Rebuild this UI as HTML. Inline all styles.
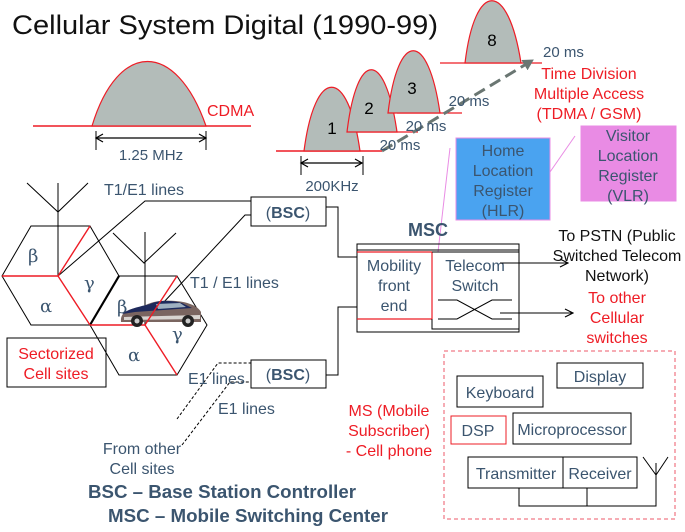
<!DOCTYPE html>
<html><head><meta charset="utf-8"><style>
html,body{margin:0;padding:0;background:#fff;}
svg, svg text{font-family:"Liberation Sans",Arial,Helvetica,sans-serif;}
svg text.gk{font-family:"DejaVu Serif",serif;}
.b{fill:#3b556f;}
.r{fill:#ee1c25;}
</style></head><body>
<svg width="685" height="527" viewBox="0 0 685 527" xmlns="http://www.w3.org/2000/svg" font-family="Liberation Sans, Arial, sans-serif">
<defs>
<marker id="ah" markerWidth="10" markerHeight="10" refX="9" refY="5" orient="auto" markerUnits="userSpaceOnUse"><path d="M1,1 L9,5 L1,9" fill="none" stroke="#000" stroke-width="1.2"/></marker>
<marker id="ag" markerWidth="12" markerHeight="12" refX="10" refY="6" orient="auto" markerUnits="userSpaceOnUse"><path d="M0,0 L11,6 L0,12 Z" fill="#6a7672"/></marker>
</defs>
<text x="12" y="34" font-size="27" textLength="426" lengthAdjust="spacingAndGlyphs" fill="#111">Cellular System Digital (1990-99)</text>

<!-- CDMA -->
<line x1="33" y1="126" x2="251" y2="126" stroke="#ee1c25" stroke-width="1.5"/>
<path d="M92,126 C118,40 176,40 206,126 Z" fill="#b3bcb9" stroke="#ee1c25" stroke-width="1.2"/>
<text x="207" y="116" font-size="16" class="r">CDMA</text>
<line x1="96" y1="138" x2="206" y2="138" stroke="#000" stroke-width="1.2"/>
<path d="M103,134 L96,138 L103,142 M199,134 L206,138 L199,142" fill="none" stroke="#000" stroke-width="1.2"/>
<line x1="96" y1="131" x2="96" y2="150" stroke="#000"/><line x1="206" y1="131" x2="206" y2="150" stroke="#000"/>
<text x="151" y="160" font-size="15" class="b" text-anchor="middle">1.25 MHz</text>

<!-- TDMA bells -->
<line x1="276" y1="151" x2="382" y2="151" stroke="#ee1c25" stroke-width="1.5"/>
<line x1="354" y1="132" x2="418" y2="132" stroke="#ee1c25" stroke-width="1.2"/>
<line x1="397" y1="113" x2="462" y2="113" stroke="#ee1c25" stroke-width="1.2"/>
<line x1="440" y1="63" x2="542" y2="63" stroke="#ee1c25" stroke-width="1.2"/>
<path d="M304,151 C315,66 348,66 360,151 Z" fill="#b3bcb9" stroke="#ee1c25" stroke-width="1.2"/>
<path d="M347,132 C357,49 385,49 397,132 Z" fill="#b3bcb9" stroke="#ee1c25" stroke-width="1.2"/>
<path d="M388,113 C398,30 428,30 440,113 Z" fill="#b3bcb9" stroke="#ee1c25" stroke-width="1.2"/>
<path d="M465,63 C475,-20 508,-20 521,63 Z" fill="#b3bcb9" stroke="#ee1c25" stroke-width="1.2"/>
<text x="332" y="134" font-size="17" text-anchor="middle">1</text>
<text x="369" y="114" font-size="17" text-anchor="middle">2</text>
<text x="412" y="94" font-size="17" text-anchor="middle">3</text>
<text x="492" y="46" font-size="17" text-anchor="middle">8</text>
<line x1="382" y1="151" x2="533" y2="60" stroke="#6a7672" stroke-width="3" stroke-dasharray="12,6" marker-end="url(#ag)"/>
<text x="400" y="150" font-size="15" class="b" text-anchor="middle">20 ms</text>
<text x="426" y="131" font-size="15" class="b" text-anchor="middle">20 ms</text>
<text x="469" y="106" font-size="15" class="b" text-anchor="middle">20 ms</text>
<text x="543" y="57" font-size="15" class="b">20 ms</text>
<line x1="301" y1="163" x2="362" y2="163" stroke="#000" stroke-width="1.2"/>
<path d="M308,159 L301,163 L308,167 M355,159 L362,163 L355,167" fill="none" stroke="#000" stroke-width="1.2"/>
<line x1="301" y1="156" x2="301" y2="175" stroke="#000"/><line x1="363" y1="156" x2="363" y2="175" stroke="#000"/>
<text x="332" y="191" font-size="15" class="b" text-anchor="middle">200KHz</text>
<g font-size="16" class="r" text-anchor="middle">
<text x="589" y="79">Time Division</text>
<text x="589" y="99">Multiple Access</text>
<text x="589" y="119">(TDMA / GSM)</text>
</g>

<!-- HLR VLR -->
<line x1="450" y1="148" x2="438" y2="252" stroke="#e98be4" stroke-width="1"/>
<line x1="575" y1="136" x2="550" y2="172" stroke="#e98be4" stroke-width="1"/>
<rect x="456" y="138" width="94" height="82" fill="#4aa3f0" stroke="#e98be4"/>
<g font-size="16" class="b" text-anchor="middle">
<text x="503" y="156">Home</text><text x="503" y="176">Location</text><text x="503" y="196">Register</text><text x="503" y="216">(HLR)</text>
</g>
<rect x="581" y="126" width="95" height="75" fill="#e98be4" stroke="#e98be4"/>
<g font-size="16" class="b" text-anchor="middle">
<text x="628" y="141">Visitor</text><text x="628" y="161">Location</text><text x="628" y="181">Register</text><text x="628" y="201">(VLR)</text>
</g>

<!-- antennas & hexes -->
<g stroke="#000" stroke-width="1" fill="none">
<path d="M27,183 L58,212 L88,183 M58,183 L58,276"/>
<path d="M113,233 L144,263 L176,233 M145,232 L145,325"/>
<polygon points="2,276 31,226 90,226 119,276 90,325 31,325"/>
<polygon points="90,325 119,276 177,276 207,325 177,375 119,375"/>
<line x1="119" y1="276" x2="90" y2="325" stroke-width="2.2"/>
<path d="M58,276 L145,201 L251,201"/>
<path d="M163,303 L245,215 L251,215"/>
<path d="M326,207 L338,207 L338,257 L357,257"/>
<path d="M326,375 L338,375 L338,307 L357,307"/>
</g>
<g stroke="#ee1c25" stroke-width="1.4">
<line x1="58" y1="276" x2="2" y2="276"/><line x1="58" y1="276" x2="90" y2="226"/><line x1="58" y1="276" x2="90" y2="325"/>
<line x1="145" y1="325" x2="90" y2="325"/><line x1="145" y1="325" x2="177" y2="375"/>
</g>
<g font-size="18" class="b">
<text class="gk b" x="28" y="262">β</text><text class="gk b" x="40" y="312">α</text><text class="gk b" x="84" y="289">γ</text>
<text class="gk b" x="117" y="313">β</text><text class="gk b" x="172" y="340">γ</text><text class="gk b" x="128" y="361">α</text>
</g>
<!-- car -->
<g>
<path d="M121,322 C120,312 128,309 142,307 C152,301 162,300 176,301 C188,302 198,306 201,312 L201,322 Z" fill="#7a6560"/>
<path d="M122,314 C130,308 143,306 150,304 C158,300 170,300 182,303 L192,308 L135,312 Z" fill="#1e2a5c"/>
<path d="M156,304 L180,303 L186,307 L158,309 Z" fill="#9fb0c0"/>
<path d="M124,317 L200,315 L200,319 L124,320 Z" fill="#d8d4d0"/>
<circle cx="137" cy="321" r="6" fill="#222"/><circle cx="137" cy="321" r="2.5" fill="#ccc"/>
<circle cx="188" cy="321" r="6" fill="#222"/><circle cx="188" cy="321" r="2.5" fill="#ccc"/>
</g>
<line x1="145" y1="325" x2="177" y2="276" stroke="#ee1c25" stroke-width="1.4"/>
<text x="104" y="195" font-size="16" class="b">T1/E1 lines</text>
<text x="190" y="288" font-size="16" class="b">T1 / E1 lines</text>
<rect x="7" y="338" width="99" height="49" fill="none" stroke="#000"/>
<text x="56" y="359" font-size="16" class="r" text-anchor="middle">Sectorized</text>
<text x="56" y="379" font-size="16" class="r" text-anchor="middle">Cell sites</text>

<!-- BSC -->
<rect x="251" y="197" width="75" height="29" fill="#fff" stroke="#000"/>
<text x="288" y="218" font-size="16" class="b" text-anchor="middle">(<tspan font-weight="bold">BSC</tspan>)</text>
<rect x="251" y="360" width="75" height="28" fill="#fff" stroke="#000"/>
<text x="288" y="380" font-size="16" class="b" text-anchor="middle">(<tspan font-weight="bold">BSC</tspan>)</text>
<g stroke="#000" stroke-width="1" fill="none" stroke-dasharray="3,2">
<path d="M177,419 L218,363 L251,363"/>
<path d="M182,445 L230,382 L251,382"/>
</g>
<text x="188" y="384" font-size="16" class="b">E1 lines</text>
<text x="218" y="414" font-size="16" class="b">E1 lines</text>
<text x="142" y="454" font-size="16" class="b" text-anchor="middle">From other</text>
<text x="142" y="474" font-size="16" class="b" text-anchor="middle">Cell sites</text>
<text x="88" y="498" font-size="18" font-weight="bold" class="b" textLength="268" lengthAdjust="spacingAndGlyphs">BSC – Base Station Controller</text>
<text x="108" y="522" font-size="18" font-weight="bold" class="b" textLength="280" lengthAdjust="spacingAndGlyphs">MSC – Mobile Switching Center</text>

<!-- MSC -->
<text x="408" y="236" font-size="18" font-weight="bold" class="b">MSC</text>
<rect x="357" y="244" width="162" height="88" fill="none" stroke="#000"/>
<line x1="357" y1="250" x2="519" y2="250" stroke="#000"/>
<line x1="357" y1="252" x2="432" y2="252" stroke="#ee1c25" stroke-width="1.2"/>
<line x1="357" y1="319" x2="432" y2="319" stroke="#ee1c25" stroke-width="1.2"/>
<line x1="432" y1="252" x2="432" y2="319" stroke="#ee1c25" stroke-width="1.2"/>
<path d="M432,252 L519,252 M432,319 L432,329 L519,329" fill="none" stroke="#000"/>
<g font-size="16" class="b" text-anchor="middle">
<text x="394" y="271">Mobility</text><text x="394" y="291">front</text><text x="394" y="311">end</text>
<text x="475" y="271">Telecom</text><text x="475" y="291">Switch</text>
</g>
<path d="M438,300 L457,300 L492,319 L512,319 M438,319 L457,319 L492,300 L512,300" fill="none" stroke="#000"/>
<line x1="500" y1="263" x2="568" y2="263" stroke="#000" marker-end="url(#ah)"/>
<line x1="500" y1="313" x2="573" y2="313" stroke="#000" marker-end="url(#ah)"/>
<g font-size="16" text-anchor="middle">
<text x="617" y="241" fill="#111">To PSTN (Public</text>
<text x="617" y="261" fill="#111">Switched Telecom</text>
<text x="617" y="281" fill="#111">Network)</text>
<text x="617" y="303" class="r">To other</text>
<text x="617" y="323" class="r">Cellular</text>
<text x="617" y="343" class="r">switches</text>
</g>

<!-- MS -->
<g font-size="16" class="r" text-anchor="middle">
<text x="389" y="416">MS (Mobile</text><text x="389" y="436">Subscriber)</text><text x="389" y="456">- Cell phone</text>
</g>
<rect x="444" y="351" width="231" height="168" fill="none" stroke="#ee5a6a" stroke-dasharray="4,3"/>
<g fill="#fff" stroke="#000">
<rect x="457" y="376" width="86" height="31"/>
<rect x="557" y="363" width="86" height="25"/>
<rect x="451" y="416" width="55" height="28" stroke="#ee1c25"/>
<rect x="513" y="413" width="118" height="31"/>
<rect x="468" y="457" width="169" height="31"/>
</g>
<path d="M563,457 L563,488 M519,488 L519,506 L656,506 L656,463 M587,488 L587,506 M643,457 L656,475 L668,457" fill="none" stroke="#000"/>
<g font-size="16" class="b" text-anchor="middle">
<text x="500" y="398">Keyboard</text>
<text x="600" y="382">Display</text>
<text x="478" y="436">DSP</text>
<text x="572" y="435">Microprocessor</text>
<text x="516" y="479">Transmitter</text>
<text x="600" y="479">Receiver</text>
</g>
</svg>
</body></html>
